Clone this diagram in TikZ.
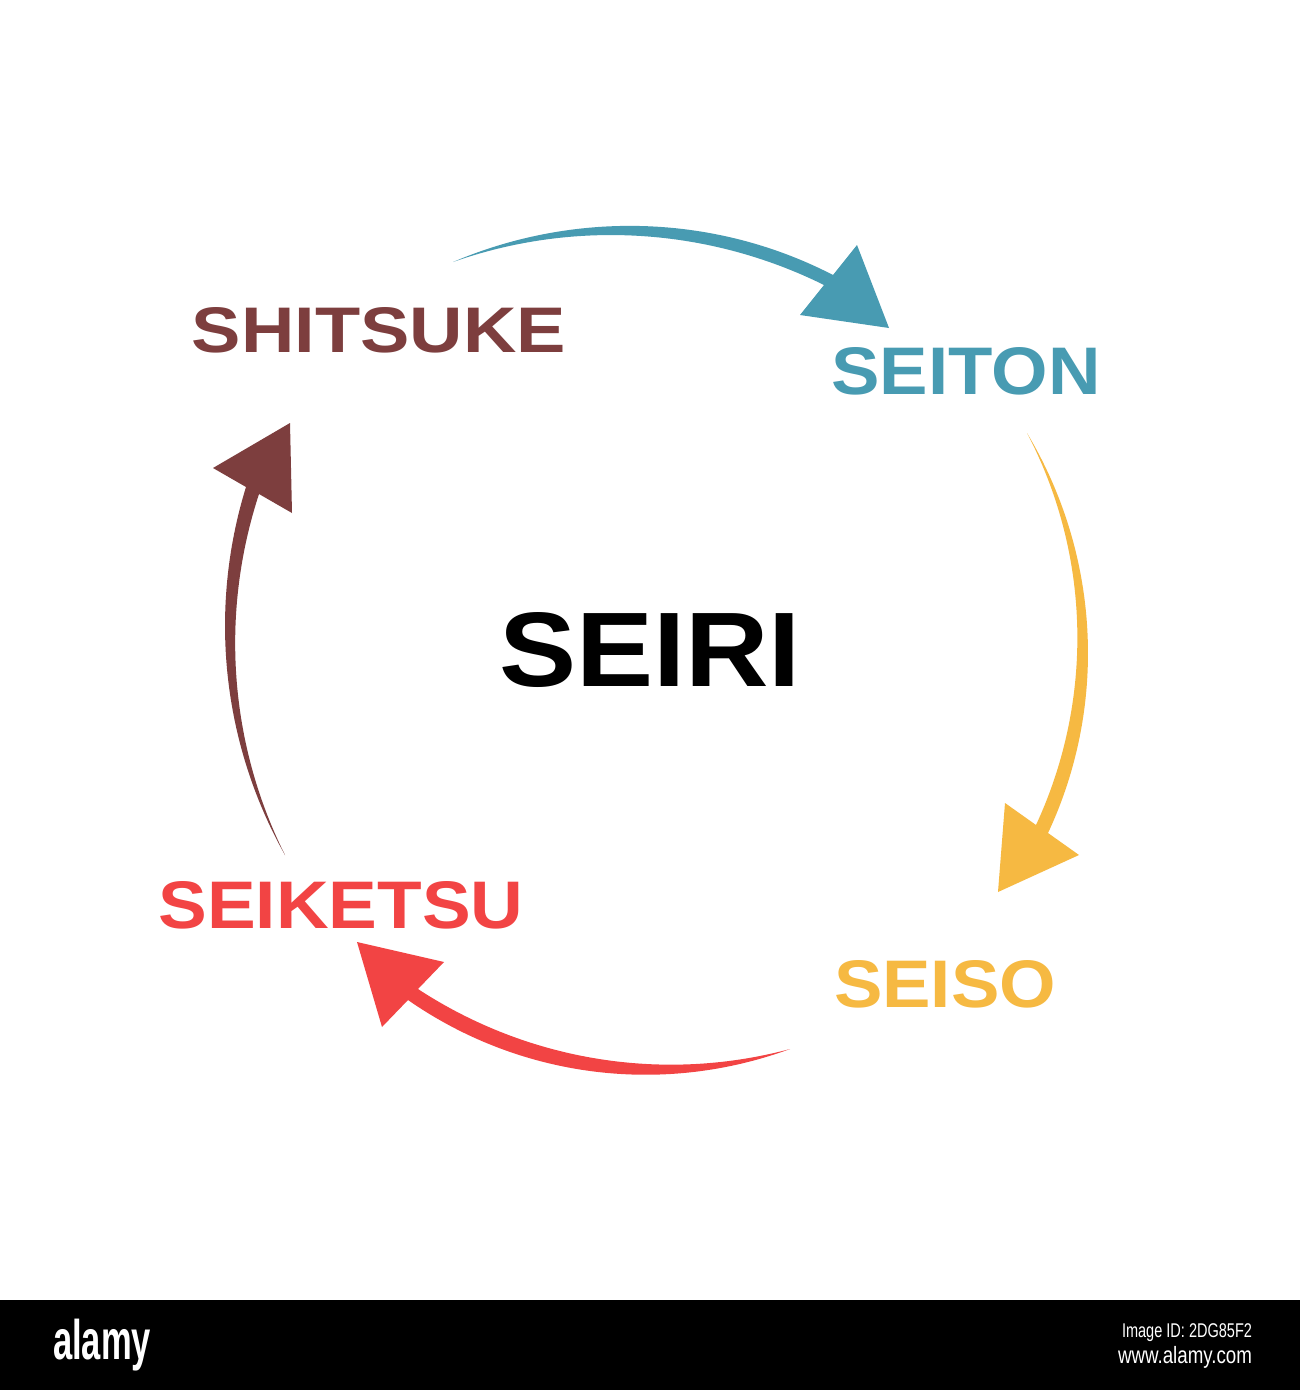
\documentclass[tikz,border=0pt]{standalone}
\usepackage{fontspec}
\setmainfont{Liberation Sans}
\usepackage{tikz}

\definecolor{shitsukebrown}{RGB}{125,62,62}
\definecolor{seitonblue}{RGB}{72,155,178}
\definecolor{seisoyellow}{RGB}{246,185,66}
\definecolor{seiketsured}{RGB}{242,68,68}

\newcommand{\fitword}[3]{\resizebox{#1}{#2}{\bfseries #3}}

\tikzset{word/.style={inner sep=0pt,outer sep=0pt,anchor=center}}

\begin{document}
\begin{tikzpicture}[x=0.1mm,y=-0.1mm]
        \useasboundingbox (0,0) rectangle (1300,1390);
        \fill[white](0,0) rectangle (1300,1300);
        \fill[black](0,1300) rectangle (1300,1390);
        \node[word,text=shitsukebrown](shitsuke)at(379, 330){\fitword{3.74cm}{0.45cm}{SHITSUKE}};
        \node[word,text=seitonblue](seiton)at(966, 371){\fitword{2.69cm}{0.47cm}{SEITON}};
        \node[word,text=seisoyellow](seiso)at(945, 984){\fitword{2.22cm}{0.47cm}{SEISO}};
        \node[word,text=seiketsured](seiketsu)at(341, 905){\fitword{3.65cm}{0.47cm}{SEIKETSU}};
        \node[word,text=black](seiri)at(650, 650){\fitword{3.02cm}{0.74cm}{SEIRI}};
        \fill[seitonblue](453, 262) .. controls (575, 210) and (715, 214) .. (833, 275)
        -- (857, 245) -- (889, 328) -- (800, 315) -- (824, 285)
        .. controls (709, 228) and (575, 219) .. (453, 262) -- cycle;
        \fill[seisoyellow](1027, 433) .. controls (1100, 555) and (1108, 705) .. (1048, 833)
        -- (1079, 855) -- (998, 892) -- (1005, 803) -- (1036, 825)
        .. controls (1094, 700) and (1091, 555) .. (1027, 433) -- cycle;
        \fill[seiketsured](790, 1049) .. controls (662, 1096) and (520, 1078) .. (408, 1000)
        -- (382, 1027) -- (357, 942) -- (444, 962) -- (418, 989)
        .. controls (528, 1061) and (663, 1083) .. (790, 1049) -- cycle;
        \fill[shitsukebrown](285, 855) .. controls (222, 743) and (208, 610) .. (246, 487)
        -- (213, 468) -- (290, 423) -- (292, 513) -- (259, 494)
        .. controls (220, 613) and (229, 743) .. (285, 855) -- cycle;
        \node[word,text=white](alamy)at(102, 1345){\resizebox*{0.98cm}{0.52cm}{\bfseries alamy}};
        \node[word,text=white,anchor=east](imageid)at(1252, 1333){\resizebox*{1.30cm}{0.18cm}{Image ID: 2DG85F2}};
        \node[word,text=white,anchor=east](site)at(1252, 1357){\resizebox*{1.34cm}{0.22cm}{www.alamy.com}};
    \end{tikzpicture}
\end{document}
